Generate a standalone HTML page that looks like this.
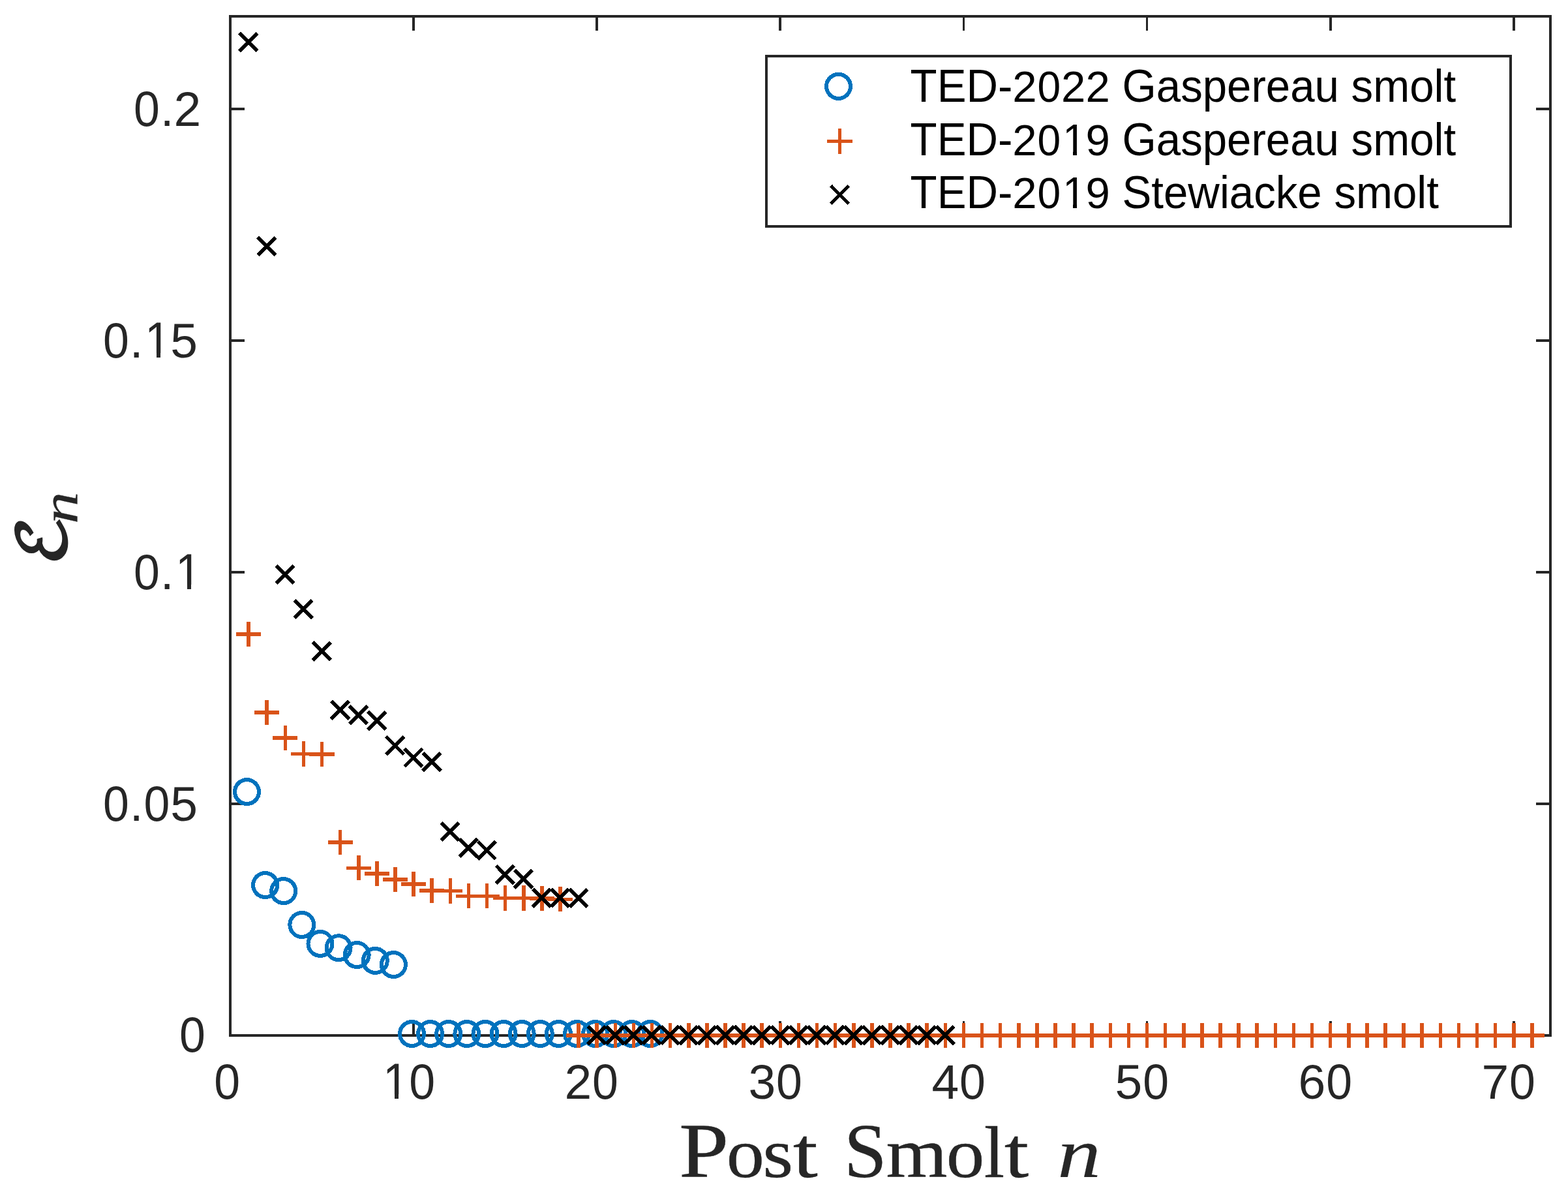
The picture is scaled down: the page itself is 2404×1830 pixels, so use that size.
<!DOCTYPE html>
<html lang="en"><head><meta charset="utf-8"><title>Post Smolt plot</title>
<style>
html,body{margin:0;padding:0;background:#fff;}
body{width:2404px;height:1830px;overflow:hidden;}
svg{display:block;}
text{white-space:pre;}
.tick{font-family:"Liberation Sans",sans-serif;font-size:75px;fill:#262626;stroke:none;stroke-width:0px;}
.leg{font-family:"Liberation Sans",sans-serif;font-size:67.2px;fill:#000;stroke:none;stroke-width:0px;}
.lab{font-family:"Liberation Serif",serif;fill:#262626;stroke:#262626;}
.ax{stroke:#262626;stroke-width:3.75;fill:none;stroke-linecap:square;}
.tk{stroke:#262626;stroke-width:3.75;fill:none;}
.mo{stroke:#0072BD;stroke-width:6;fill:none;}
.mp{stroke:#D95319;stroke-width:5.6;fill:none;}
.mx{stroke:#000000;stroke-width:5.6;fill:none;}
.wm{fill:#fff;stroke:none;}
</style></head><body>
<svg width="2404" height="1830" viewBox="0 0 2404 1830" shape-rendering="crispEdges">
<rect x="0" y="0" width="2404" height="1830" fill="#fff"/>
<defs>
<path id="p" d="M-19.1 0H19.1M0 -19.1V19.1"/>
<path id="x" d="M-13.7 -13.7L13.7 13.7M-13.7 13.7L13.7 -13.7"/>
<circle id="o" cx="0" cy="0" r="18.5"/>
</defs>
<g class="tk">
<path d="M634.11 1587V1565 M634.11 25V47"/>
<path d="M915.22 1587V1565 M915.22 25V47"/>
<path d="M1196.33 1587V1565 M1196.33 25V47"/>
<path d="M1477.44 1587V1565 M1477.44 25V47"/>
<path d="M1758.56 1587V1565 M1758.56 25V47"/>
<path d="M2039.67 1587V1565 M2039.67 25V47"/>
<path d="M2320.78 1587V1565 M2320.78 25V47"/>
<path d="M353 1232H375 M2377 1232H2355"/>
<path d="M353 877H375 M2377 877H2355"/>
<path d="M353 522H375 M2377 522H2355"/>
<path d="M353 167H375 M2377 167H2355"/>
</g>
<rect class="ax" x="353" y="25" width="2024" height="1562"/>
<g class="mo">
<use href="#o" x="378.51" y="1213.55"/>
<use href="#o" x="406.62" y="1356.55"/>
<use href="#o" x="434.73" y="1365.6"/>
<use href="#o" x="462.84" y="1417.45"/>
<use href="#o" x="490.96" y="1446.4"/>
<use href="#o" x="519.07" y="1452.7"/>
<use href="#o" x="547.18" y="1463.5"/>
<use href="#o" x="575.29" y="1472.4"/>
<use href="#o" x="603.4" y="1478.5"/>
<use href="#o" x="631.51" y="1584.5"/>
<use href="#o" x="659.62" y="1584.5"/>
<use href="#o" x="687.73" y="1584.5"/>
<use href="#o" x="715.84" y="1584.5"/>
<use href="#o" x="743.96" y="1584.5"/>
<use href="#o" x="772.07" y="1584.5"/>
<use href="#o" x="800.18" y="1584.5"/>
<use href="#o" x="828.29" y="1584.5"/>
<use href="#o" x="856.4" y="1584.5"/>
<use href="#o" x="884.51" y="1584.5"/>
<use href="#o" x="912.62" y="1584.5"/>
<use href="#o" x="940.73" y="1584.5"/>
<use href="#o" x="968.84" y="1584.5"/>
<use href="#o" x="996.96" y="1584.5"/>
</g>
<g class="mp">
<use href="#p" x="381.11" y="972"/>
<use href="#p" x="409.22" y="1092"/>
<use href="#p" x="437.33" y="1130.9"/>
<use href="#p" x="465.44" y="1155.4"/>
<use href="#p" x="493.56" y="1155.9"/>
<use href="#p" x="521.67" y="1291.1"/>
<use href="#p" x="549.78" y="1330.3"/>
<use href="#p" x="577.89" y="1339"/>
<use href="#p" x="606" y="1347.85"/>
<use href="#p" x="634.11" y="1354.9"/>
<use href="#p" x="662.22" y="1365.1"/>
<use href="#p" x="690.33" y="1365.5"/>
<use href="#p" x="718.44" y="1373.3"/>
<use href="#p" x="746.56" y="1373.3"/>
<use href="#p" x="774.67" y="1376.4"/>
<use href="#p" x="802.78" y="1376.4"/>
<use href="#p" x="830.89" y="1376.8"/>
<use href="#p" x="859" y="1378.3"/>
<use href="#p" x="887.11" y="1587"/>
<use href="#p" x="915.22" y="1587"/>
<use href="#p" x="943.33" y="1587"/>
<use href="#p" x="971.44" y="1587"/>
<use href="#p" x="999.56" y="1587"/>
<use href="#p" x="1027.67" y="1587"/>
<use href="#p" x="1055.78" y="1587"/>
<use href="#p" x="1083.89" y="1587"/>
<use href="#p" x="1112" y="1587"/>
<use href="#p" x="1140.11" y="1587"/>
<use href="#p" x="1168.22" y="1587"/>
<use href="#p" x="1196.33" y="1587"/>
<use href="#p" x="1224.44" y="1587"/>
<use href="#p" x="1252.56" y="1587"/>
<use href="#p" x="1280.67" y="1587"/>
<use href="#p" x="1308.78" y="1587"/>
<use href="#p" x="1336.89" y="1587"/>
<use href="#p" x="1365" y="1587"/>
<use href="#p" x="1393.11" y="1587"/>
<use href="#p" x="1421.22" y="1587"/>
<use href="#p" x="1449.33" y="1587"/>
<use href="#p" x="1477.44" y="1587"/>
<use href="#p" x="1505.56" y="1587"/>
<use href="#p" x="1533.67" y="1587"/>
<use href="#p" x="1561.78" y="1587"/>
<use href="#p" x="1589.89" y="1587"/>
<use href="#p" x="1618" y="1587"/>
<use href="#p" x="1646.11" y="1587"/>
<use href="#p" x="1674.22" y="1587"/>
<use href="#p" x="1702.33" y="1587"/>
<use href="#p" x="1730.44" y="1587"/>
<use href="#p" x="1758.56" y="1587"/>
<use href="#p" x="1786.67" y="1587"/>
<use href="#p" x="1814.78" y="1587"/>
<use href="#p" x="1842.89" y="1587"/>
<use href="#p" x="1871" y="1587"/>
<use href="#p" x="1899.11" y="1587"/>
<use href="#p" x="1927.22" y="1587"/>
<use href="#p" x="1955.33" y="1587"/>
<use href="#p" x="1983.44" y="1587"/>
<use href="#p" x="2011.56" y="1587"/>
<use href="#p" x="2039.67" y="1587"/>
<use href="#p" x="2067.78" y="1587"/>
<use href="#p" x="2095.89" y="1587"/>
<use href="#p" x="2124" y="1587"/>
<use href="#p" x="2152.11" y="1587"/>
<use href="#p" x="2180.22" y="1587"/>
<use href="#p" x="2208.33" y="1587"/>
<use href="#p" x="2236.44" y="1587"/>
<use href="#p" x="2264.56" y="1587"/>
<use href="#p" x="2292.67" y="1587"/>
<use href="#p" x="2320.78" y="1587"/>
<use href="#p" x="2348.89" y="1587"/>
</g>
<g class="mx">
<use href="#x" x="380.81" y="64.6"/>
<use href="#x" x="408.92" y="377.4"/>
<use href="#x" x="437.03" y="880.45"/>
<use href="#x" x="465.14" y="933.55"/>
<use href="#x" x="493.26" y="997.9"/>
<use href="#x" x="521.37" y="1088.3"/>
<use href="#x" x="549.48" y="1095.6"/>
<use href="#x" x="577.59" y="1104.5"/>
<use href="#x" x="605.7" y="1142.7"/>
<use href="#x" x="633.81" y="1161.2"/>
<use href="#x" x="661.92" y="1167.7"/>
<use href="#x" x="690.03" y="1274.5"/>
<use href="#x" x="718.14" y="1299.5"/>
<use href="#x" x="746.26" y="1303.3"/>
<use href="#x" x="774.37" y="1340.4"/>
<use href="#x" x="802.48" y="1347.3"/>
<use href="#x" x="830.59" y="1376.2"/>
<use href="#x" x="858.7" y="1376.2"/>
<use href="#x" x="886.81" y="1376.3"/>
<use href="#x" x="914.92" y="1586.6"/>
<use href="#x" x="943.03" y="1586.6"/>
<use href="#x" x="971.14" y="1586.6"/>
<use href="#x" x="999.26" y="1586.6"/>
<use href="#x" x="1027.37" y="1586.6"/>
<use href="#x" x="1055.48" y="1586.6"/>
<use href="#x" x="1083.59" y="1586.6"/>
<use href="#x" x="1111.7" y="1586.6"/>
<use href="#x" x="1139.81" y="1586.6"/>
<use href="#x" x="1167.92" y="1586.6"/>
<use href="#x" x="1196.03" y="1586.6"/>
<use href="#x" x="1224.14" y="1586.6"/>
<use href="#x" x="1252.26" y="1586.6"/>
<use href="#x" x="1280.37" y="1586.6"/>
<use href="#x" x="1308.48" y="1586.6"/>
<use href="#x" x="1336.59" y="1586.6"/>
<use href="#x" x="1364.7" y="1586.6"/>
<use href="#x" x="1392.81" y="1586.6"/>
<use href="#x" x="1420.92" y="1586.6"/>
<use href="#x" x="1449.03" y="1586.6"/>
</g>
<g class="tick" id="ticks">
<text id="tx0" x="327.2" y="1684"><tspan dx="0.94" font-size="75.3" textLength="39.83" lengthAdjust="spacingAndGlyphs">0</tspan></text>
<text id="tx1" x="584.5" y="1684"><tspan dx="2.39" font-size="77.4" textLength="39.63" lengthAdjust="spacingAndGlyphs">1</tspan><tspan dx="0.63" font-size="75.3" textLength="39.83" lengthAdjust="spacingAndGlyphs">0</tspan></text><rect class="wm" x="590.82" y="1677.22" width="13.99" height="8.28"/><rect class="wm" x="611.1" y="1677.22" width="13.43" height="8.28"/>
<text id="tx2" x="865.42" y="1684">2<tspan dx="0.94" font-size="75.3" textLength="39.83" lengthAdjust="spacingAndGlyphs">0</tspan></text>
<text id="tx3" x="1147.45" y="1684">3<tspan dx="0.94" font-size="75.3" textLength="39.83" lengthAdjust="spacingAndGlyphs">0</tspan></text>
<text id="tx4" x="1428.41" y="1684">4<tspan dx="0.94" font-size="75.3" textLength="39.83" lengthAdjust="spacingAndGlyphs">0</tspan></text>
<text id="tx5" x="1709.5" y="1684">5<tspan dx="0.94" font-size="75.3" textLength="39.83" lengthAdjust="spacingAndGlyphs">0</tspan></text>
<text id="tx6" x="1990.59" y="1684">6<tspan dx="0.94" font-size="75.3" textLength="39.83" lengthAdjust="spacingAndGlyphs">0</tspan></text>
<text id="tx7" x="2271.4" y="1684">7<tspan dx="0.94" font-size="75.3" textLength="39.83" lengthAdjust="spacingAndGlyphs">0</tspan></text>
<text id="ty0" x="204.05" y="193"><tspan dx="0.94" font-size="75.3" textLength="39.83" lengthAdjust="spacingAndGlyphs">0</tspan><tspan dx="0.94">.2</tspan></text>
<text id="ty1" x="156.95" y="548"><tspan dx="0.94" font-size="75.3" textLength="39.83" lengthAdjust="spacingAndGlyphs">0</tspan><tspan dx="0.94">.</tspan><tspan dx="2.39" font-size="77.4" textLength="39.63" lengthAdjust="spacingAndGlyphs">1</tspan><tspan dx="-0.31">5</tspan></text><rect class="wm" x="225.82" y="541.22" width="13.99" height="8.28"/><rect class="wm" x="246.11" y="541.22" width="13.43" height="8.28"/>
<text id="ty2" x="204.05" y="903"><tspan dx="0.94" font-size="75.3" textLength="39.83" lengthAdjust="spacingAndGlyphs">0</tspan><tspan dx="0.94">.</tspan><tspan dx="2.39" font-size="77.4" textLength="39.63" lengthAdjust="spacingAndGlyphs">1</tspan></text><rect class="wm" x="272.92" y="896.22" width="13.99" height="8.28"/><rect class="wm" x="293.21" y="896.22" width="13.43" height="8.28"/>
<text id="ty3" x="156.95" y="1258"><tspan dx="0.94" font-size="75.3" textLength="39.83" lengthAdjust="spacingAndGlyphs">0</tspan><tspan dx="0.94">.</tspan><tspan dx="0.94" font-size="75.3" textLength="39.83" lengthAdjust="spacingAndGlyphs">0</tspan><tspan dx="0.94">5</tspan></text>
<text id="ty4" x="274.1" y="1612"><tspan dx="0.94" font-size="75.3" textLength="39.83" lengthAdjust="spacingAndGlyphs">0</tspan></text>
</g>
<text class="lab" id="xlab" y="1803.9" font-size="107" stroke-width="0.4"><tspan x="1041.04" font-size="118.5" textLength="76.47" lengthAdjust="spacingAndGlyphs">P</tspan><tspan x="1113.67" font-size="107" textLength="58.16" lengthAdjust="spacingAndGlyphs">o</tspan><tspan x="1169.36" font-size="107" textLength="46.9" lengthAdjust="spacingAndGlyphs">s</tspan><tspan x="1215.86" font-size="110" textLength="38.04" lengthAdjust="spacingAndGlyphs">t</tspan> <tspan x="1294.01" font-size="118.5" textLength="65.61" lengthAdjust="spacingAndGlyphs">S</tspan><tspan x="1358.56" font-size="107" textLength="94.03" lengthAdjust="spacingAndGlyphs">m</tspan><tspan x="1450.73" font-size="107" textLength="58.63" lengthAdjust="spacingAndGlyphs">o</tspan><tspan x="1508.84" font-size="113" textLength="31.43" lengthAdjust="spacingAndGlyphs">l</tspan><tspan x="1539.88" font-size="110" textLength="37.51" lengthAdjust="spacingAndGlyphs">t</tspan> <tspan x="1621.35" font-size="109" textLength="66.57" lengthAdjust="spacingAndGlyphs" font-style="italic" stroke-width="0.2">n</tspan></text>
<text class="lab" id="ylab" transform="rotate(-90)" font-size="100.4"><tspan x="-866.76" y="100.1" style="font-family:'DejaVu Math TeX Gyre','DejaVu Sans',serif" font-weight="normal" stroke-width="2.5" textLength="77.92" lengthAdjust="spacingAndGlyphs">ℰ</tspan><tspan x="-802.92" y="118.6" font-style="italic" font-size="78" stroke-width="0.2" textLength="49.43" lengthAdjust="spacingAndGlyphs">n</tspan></text>
<rect x="1175.1" y="85.95" width="1140.8" height="261.25" fill="#fff" stroke="#262626" stroke-width="3.75"/>
<use class="mo" href="#o" x="1285.5" y="132.4"/>
<use class="mp" href="#p" x="1287.5" y="216.45"/>
<use class="mx" href="#x" x="1287.55" y="298.5"/>
<g class="leg" id="leg">
<g transform="translate(1395.6,156) scale(1,1.05)"><text id="lg0" x="0" y="0">TED-<tspan font-size="64" textLength="37.37" lengthAdjust="spacingAndGlyphs">2</tspan><tspan dx="0.84" font-size="64.26" textLength="35.69" lengthAdjust="spacingAndGlyphs">0</tspan><tspan dx="0.84" font-size="64" textLength="37.37" lengthAdjust="spacingAndGlyphs">2</tspan><tspan font-size="64" textLength="37.37" lengthAdjust="spacingAndGlyphs">2</tspan> Gaspereau smolt</text></g>
<g transform="translate(1395.6,237.5) scale(1,1.05)"><text id="lg1" x="0" y="0">TED-<tspan font-size="64" textLength="37.37" lengthAdjust="spacingAndGlyphs">2</tspan><tspan dx="0.84" font-size="64.26" textLength="35.69" lengthAdjust="spacingAndGlyphs">0</tspan><tspan dx="2.98" font-size="66.05" textLength="35.5" lengthAdjust="spacingAndGlyphs">1</tspan><tspan dx="-0.28" font-size="64" textLength="37.37" lengthAdjust="spacingAndGlyphs">9</tspan> Gaspereau smolt</text><rect class="wm" x="237.01" y="-5.93" width="12.69" height="7.43"/><rect class="wm" x="255.34" y="-5.93" width="12.19" height="7.43"/></g>
<g transform="translate(1395.6,318.8) scale(1,1.05)"><text id="lg2" x="0" y="0">TED-<tspan font-size="64" textLength="37.37" lengthAdjust="spacingAndGlyphs">2</tspan><tspan dx="0.84" font-size="64.26" textLength="35.69" lengthAdjust="spacingAndGlyphs">0</tspan><tspan dx="2.98" font-size="66.05" textLength="35.5" lengthAdjust="spacingAndGlyphs">1</tspan><tspan dx="-0.28" font-size="64" textLength="37.37" lengthAdjust="spacingAndGlyphs">9</tspan> Stewiacke smolt</text><rect class="wm" x="237.01" y="-5.93" width="12.69" height="7.43"/><rect class="wm" x="255.34" y="-5.93" width="12.19" height="7.43"/></g>
</g>
</svg>
</body></html>
